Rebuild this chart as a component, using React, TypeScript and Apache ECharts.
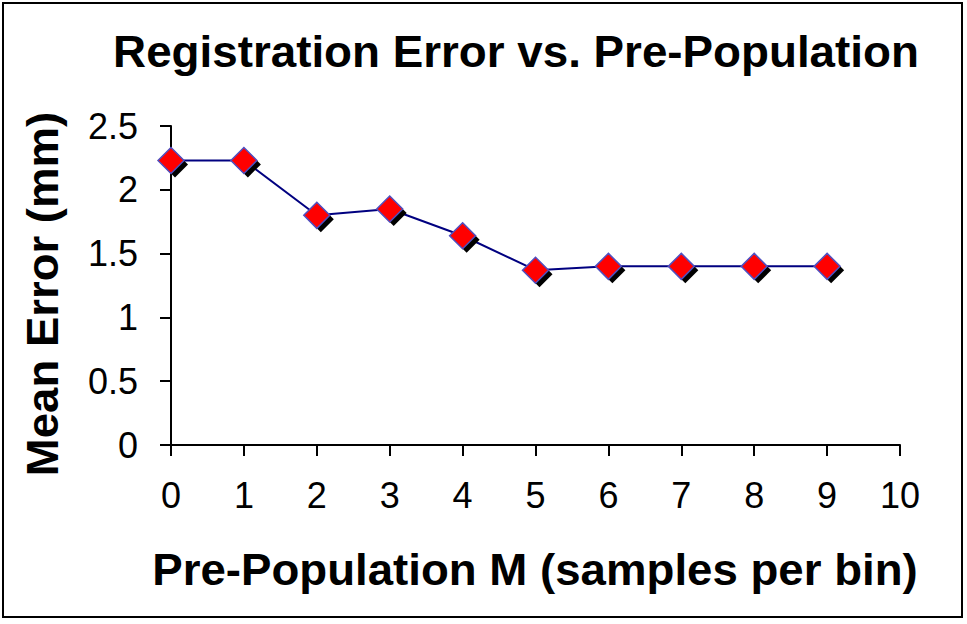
import React, { useEffect, useRef } from "react";
import * as echarts from "echarts";

const xValues = [0, 1, 2, 3, 4, 5, 6, 7, 8, 9];
const meanError = [2.23, 2.23, 1.8, 1.85, 1.64, 1.37, 1.4, 1.4, 1.4, 1.4];
const titleText = "Registration Error vs. Pre-Population";
const xAxisName = "Pre-Population M (samples per bin)";
const yAxisName = "Mean Error (mm)";

const FONT = "'Liberation Sans', Arial, Helvetica, sans-serif";

export default function App() {
  const ref = useRef<HTMLDivElement>(null);
  useEffect(() => {
    if (!ref.current) return;
    const chart = echarts.init(ref.current, undefined, { renderer: "svg" });
    const pts = xValues.map((x, i) => [x, meanError[i]]);
    chart.setOption({
      animation: false,
      backgroundColor: "#ffffff",
      textStyle: { fontFamily: FONT },
      grid: { left: 171, right: 67, top: 126, bottom: 179 },
      xAxis: {
        type: "value",
        min: 0,
        max: 10,
        interval: 1,
        splitLine: { show: false },
        axisLine: { show: true, onZero: false, lineStyle: { color: "#000", width: 2 } },
        axisTick: { show: true, inside: false, length: 11, lineStyle: { color: "#000", width: 2 } },
        axisLabel: { color: "#000", fontSize: 36, fontFamily: FONT, margin: 32 },
      },
      yAxis: {
        type: "value",
        min: 0,
        max: 2.5,
        interval: 0.5,
        splitLine: { show: false },
        axisLine: { show: true, lineStyle: { color: "#000", width: 2 } },
        axisTick: { show: true, inside: false, length: 11, lineStyle: { color: "#000", width: 2 } },
        axisLabel: { color: "#000", fontSize: 36, fontFamily: FONT, margin: 33 },
      },
      series: [
        {
          type: "line",
          data: pts,
          symbol: "none",
          lineStyle: { color: "#000080", width: 2 },
          z: 2,
        },
        {
          type: "scatter",
          data: pts,
          symbol: "diamond",
          symbolSize: 26,
          symbolOffset: [4, 4],
          itemStyle: { color: "#000000", opacity: 1 },
          z: 3,
        },
        {
          type: "scatter",
          data: pts,
          symbol: "diamond",
          symbolSize: 26,
          itemStyle: { color: "#ff0000", borderColor: "#5050c0", borderWidth: 1.5, opacity: 1 },
          z: 4,
        },
      ],
      graphic: [
        {
          type: "rect",
          shape: { x: 3, y: 3, width: 959, height: 614 },
          style: { fill: "none", stroke: "#000", lineWidth: 2 },
          silent: true,
        },
        {
          type: "text",
          x: 516,
          y: 52,
          scaleX: 1.04,
          style: {
            text: titleText,
            font: `bold 44px ${FONT}`,
            fill: "#000",
            textAlign: "center",
            textVerticalAlign: "middle",
          },
        },
        {
          type: "text",
          x: 535,
          y: 569,
          scaleX: 1.037,
          style: {
            text: xAxisName,
            font: `bold 44px ${FONT}`,
            fill: "#000",
            textAlign: "center",
            textVerticalAlign: "middle",
          },
        },
        {
          type: "text",
          x: 42,
          y: 294,
          rotation: Math.PI / 2,
          scaleX: 1.035,
          style: {
            text: yAxisName,
            font: `bold 44px ${FONT}`,
            fill: "#000",
            textAlign: "center",
            textVerticalAlign: "middle",
          },
        },
      ],
    });
    return () => chart.dispose();
  }, []);
  return (
    <div
      ref={ref}
      style={{ position: "absolute", left: 0, top: 0, width: 967, height: 624 }}
    />
  );
}
